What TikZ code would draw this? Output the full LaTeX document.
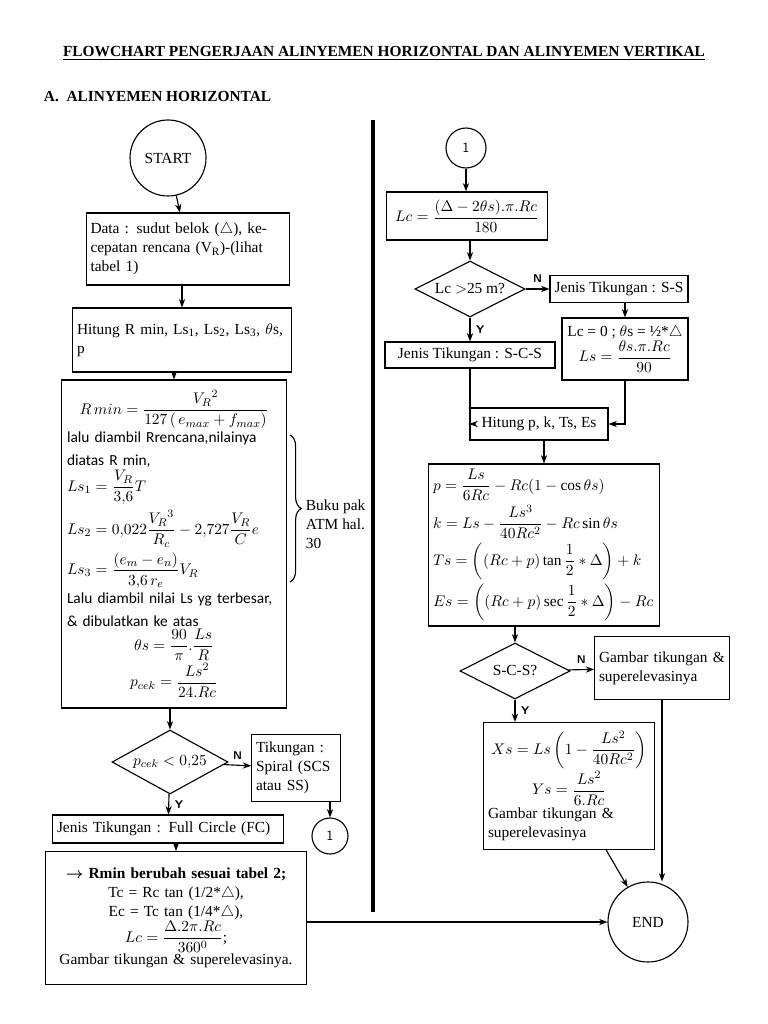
\documentclass[12pt,tikz,border=0pt]{standalone}
\usepackage{amsmath}
\usepackage{fontspec}
\setmainfont{Liberation Serif}
\newfontfamily\calib{Carlito}
\usetikzlibrary{arrows.meta,shapes.geometric,decorations.pathreplacing}
\begin{document}
\begin{tikzpicture}[x=0.025cm,y=-0.025cm,
  box/.style={draw,thick,fill=white,inner sep=3pt},
  arr/.style={thick,-{Stealth[length=6pt]}},
  dec/.style={draw,thick,diamond,aspect=2,inner sep=0pt},
  lbl/.style={font=\sffamily\bfseries\scriptsize},
  font=\small]
\useasboundingbox (0,0) rectangle (768,1024);
\node[font=\bfseries\small] (title) at (384,53) {\underline{FLOWCHART PENGERJAAN ALINYEMEN HORIZONTAL DAN ALINYEMEN VERTIKAL}};
\node[font=\bfseries\small,anchor=west] (secA) at (38,97) {A.\ \ ALINYEMEN HORIZONTAL};
\draw[line width=3pt] (373,120) -- (373,912);
% left column
\node[draw,thick,circle,minimum size=76*0.025cm] (start) at (168,158) {START};
\node[box,text width=195*0.025cm,minimum height=72*0.025cm,align=left] (data) at (188,249) {Data : sudut belok ($\triangle$), kecepatan rencana (V\textsubscript{R})-(lihat tabel 1)};
\node[box,text width=210*0.025cm,minimum height=64*0.025cm,align=left] (hit) at (182,340) {Hitung R min, Ls\textsubscript{1}, Ls\textsubscript{2}, Ls\textsubscript{3}, $\theta$s, p};
\node[box,text width=214*0.025cm,minimum height=328*0.025cm,align=left,inner sep=4pt] (big) at (174,544) {\calib\small
\centerline{$R\,min=\dfrac{{V_R}^2}{127\,(\,e_{max}+f_{max})}$}\vspace{1pt}
lalu diambil Rrencana,nilainya\\[3pt] diatas R min,\\[1pt]
$Ls_1=\dfrac{V_R}{3{,}6}T$\\[3pt]
$Ls_2=0{,}022\dfrac{{V_R}^3}{R_c}-2{,}727\dfrac{V_R}{C}e$\\[3pt]
$Ls_3=\dfrac{(e_m-e_n)}{3{,}6\,r_e}V_R$\\[2pt]
Lalu diambil nilai Ls yg terbesar,\\[3pt] \& dibulatkan ke atas\vspace{1pt}
\centerline{$\theta s=\dfrac{90}{\pi}.\dfrac{Ls}{R}$}\vspace{1pt}
\centerline{$p_{cek}=\dfrac{Ls^2}{24.Rc}$}};
\draw[thick,decorate,decoration={brace,amplitude=8pt}] (290,435) -- (290,582);
\node[anchor=north west,align=left] (buku) at (300,494) {Buku pak\\ATM hal.\\30};
\node[dec,minimum width=116*0.025cm,minimum height=64*0.025cm] (d1) at (170,762) {$p_{cek}<0{,}25$};
\node[box,text width=80*0.025cm,align=left,minimum height=67*0.025cm] (tik) at (296,768) {Tikungan : Spiral (SCS atau SS)};
\node[draw,thick,circle,minimum size=36*0.025cm,font=\sffamily\footnotesize] (c1a) at (330,836) {1};
\node[box,text width=222*0.025cm,minimum height=28*0.025cm,align=left] (fc) at (168,829) {Jenis Tikungan : Full Circle (FC)};
\node[box,text width=252*0.025cm,minimum height=133*0.025cm,align=center] (fcb) at (176,918) {{\bfseries $\boldsymbol{\rightarrow}$ Rmin berubah sesuai tabel 2;}\\
Tc = Rc tan (1/2*$\triangle$),\\ Ec = Tc tan (1/4*$\triangle$),\\
\mbox{$Lc=\dfrac{\Delta.2\pi.Rc}{360^{0}}$;}\\ Gambar tikungan \& superelevasinya.};
% right column
\node[draw,thick,circle,minimum size=40*0.025cm,font=\sffamily\footnotesize] (c1b) at (466,148) {1};
\node[box,minimum width=161*0.025cm,minimum height=48*0.025cm] (lc) at (467,216) {$Lc=\dfrac{(\Delta-2\theta s).\pi.Rc}{180}$};
\node[dec,minimum width=110*0.025cm,minimum height=56*0.025cm] (d2) at (470,289) {Lc $>$25 m?};
\node[box,minimum width=138*0.025cm,minimum height=27*0.025cm] (ss) at (619,289) {Jenis Tikungan : S-S};
\node[box,minimum width=126*0.025cm,minimum height=62*0.025cm,align=center] (lc0) at (625,349) {Lc = 0 ; $\theta$s = \textonehalf*$\triangle$\\ $Ls=\dfrac{\theta s.\pi.Rc}{90}$};
\node[box,minimum width=170*0.025cm,minimum height=26*0.025cm] (scs) at (470,355) {Jenis Tikungan : S-C-S};
\node[box,minimum width=138*0.025cm,minimum height=32*0.025cm] (hp) at (539,424) {Hitung p, k, Ts, Es};
\node[box,text width=222*0.025cm,minimum height=162*0.025cm,align=left] (fb) at (544,545) {
$p=\dfrac{Ls}{6Rc}-Rc(1-\cos\theta s)$\\[2pt]
$k=Ls-\dfrac{Ls^3}{40Rc^2}-Rc\sin\theta s$\\[2pt]
$Ts=\left((Rc+p)\tan\dfrac{1}{2}*\Delta\right)+k$\\[2pt]
$Es=\left((Rc+p)\sec\dfrac{1}{2}*\Delta\right)-Rc$};
\node[dec,minimum width=110*0.025cm,minimum height=56*0.025cm] (d3) at (515,671) {S-C-S?};
\node[box,text width=126*0.025cm,minimum height=63*0.025cm,align=left] (gb) at (662,668) {Gambar tikungan \& superelevasinya};
\node[box,text width=162*0.025cm,minimum height=127*0.025cm,align=left] (xs) at (569,786) {
\centerline{$Xs=Ls\left(1-\dfrac{Ls^2}{40Rc^2}\right)$}\vspace{1pt}
\centerline{$Ys=\dfrac{Ls^2}{6.Rc}$}\vspace{1pt}
Gambar tikungan \&\\ superelevasinya};
\node[draw,thick,circle,minimum size=80*0.025cm] (end) at (648,922) {END};
% connectors
\draw[arr] (start) -- (data);
\draw[arr] (data.south -| hit) -- (hit);
\draw[arr] (hit.south -| big) -- (big);
\draw[arr] (big.south -| d1) -- (d1);
\draw[arr] (d1) -- node[lbl,above]{N} (tik);
\draw[arr] (d1) -- node[lbl,right]{Y} (fc);
\draw[arr] (tik.south -| c1a) -- (c1a);
\draw[arr] (fc.south -| fcb) -- (fcb);
\draw[arr] (fcb.east |- end) -- (end);
\draw[arr] (c1b) -- (c1b |- lc.north);
\draw[arr] (lc.south -| d2) -- (d2);
\draw[arr] (d2) -- node[lbl,above]{N} (ss);
\draw[arr] (d2) -- node[lbl,right]{Y} (d2 |- scs.north);
\draw[arr] (ss.south -| lc0) -- (lc0);
\draw[arr] (scs.south) |- (hp.west);
\draw[arr] (lc0.south) |- (hp.east);
\draw[arr] (hp.south -| fb) -- (fb);
\draw[arr] (fb.south -| d3) -- (d3);
\draw[arr] (d3) -- node[lbl,above]{N} (gb);
\draw[arr] (d3) -- node[lbl,right]{Y} (d3 |- xs.north);
\draw[arr] (gb.south) -- (end.north -| gb.south);
\draw[arr] (xs) -- (end);
\end{tikzpicture}
\end{document}
